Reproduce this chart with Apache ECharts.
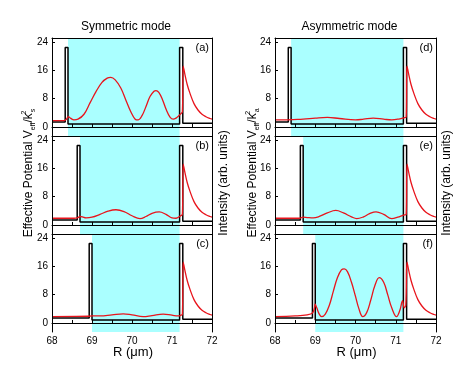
<!DOCTYPE html>
<html><head><meta charset="utf-8">
<script src="https://cdn.jsdelivr.net/npm/echarts@6/dist/echarts.min.js"></script>
<style>html,body{margin:0;padding:0;background:#fff}#c{width:474px;height:380px}</style>
</head><body><div id="c"></div>
<script>
// ---- data ----
const xTickLabels = [68, 69, 70, 71, 72];
const yTickLabels = [0, 8, 16, 24];
const panelLabels = ['(a)', '(b)', '(c)', '(d)', '(e)', '(f)'];
const columnTitles = ['Symmetric mode', 'Asymmetric mode'];
// effective potential (step profile)
const leftSpikeStart = [68.33, 68.63, 68.93, 68.33, 68.63, 68.93];
const wellStart = [68.40, 68.70, 69.00, 68.40, 68.70, 69.00];
const wellEnd = 71.19;
const rightSpikeEnd = 71.27;
const spikeTop = 22.5;
const outerLeftLevel = 1.4;
const innerLevel = 0.85;
const outerRightLevel = 1.05;
// intensity profiles
const tail = [[71.28,17.2],[71.32,15.0],[71.38,12.0],[71.45,9.5],[71.55,6.6],[71.65,4.8],[71.75,3.6],[71.85,2.9],[71.95,2.4],[72,2.2]];
const intensityA = [[68.0,1.8],[68.3,1.8],[68.36,2.2],[68.41,2.9],[68.46,2.5],[68.55,2.0],[68.65,2.2],[68.8,3.6],[68.95,6.8],[69.1,10.0],[69.25,12.6],[69.38,13.8],[69.47,14.0],[69.58,13.3],[69.72,11.0],[69.85,7.5],[69.97,4.3],[70.08,2.2],[70.15,2.0],[70.25,3.2],[70.35,5.8],[70.45,8.6],[70.55,10.1],[70.6,10.3],[70.67,9.8],[70.76,7.8],[70.86,4.8],[70.95,2.8],[71.03,2.2],[71.1,2.5],[71.17,3.2],[71.22,3.7],[71.26,4.4]];
const intensityB = [[68.0,1.9],[68.55,1.9],[68.65,2.1],[68.7,2.4],[68.76,2.3],[68.85,2.0],[69.0,2.2],[69.2,3.0],[69.4,3.9],[69.6,4.3],[69.8,3.8],[70.0,2.6],[70.2,1.8],[70.35,2.4],[70.5,3.3],[70.68,3.7],[70.85,3.0],[71.0,2.0],[71.1,1.9],[71.2,2.5],[71.26,3.0]];
const intensityC = [[68.0,1.8],[68.9,1.9],[69.0,2.0],[69.2,2.0],[69.5,2.3],[69.78,2.6],[70.0,2.3],[70.28,1.8],[70.5,2.1],[70.78,2.5],[71.0,2.2],[71.15,2.0],[71.22,2.2],[71.26,2.5]];
const intensityD = [[68.0,2.0],[68.3,2.0],[68.45,2.1],[68.7,2.2],[69.0,2.5],[69.3,2.7],[69.6,2.4],[70.0,2.0],[70.2,2.2],[70.44,2.5],[70.7,2.2],[70.9,2.0],[71.1,2.3],[71.2,2.6],[71.26,2.8]];
const intensityE = [[68.0,1.9],[68.6,1.9],[68.7,2.2],[68.8,2.1],[68.95,2.0],[69.1,2.4],[69.3,3.4],[69.51,4.1],[69.7,3.4],[69.9,2.3],[70.03,1.8],[70.2,2.3],[70.35,3.2],[70.51,3.7],[70.7,3.0],[70.9,1.8],[71.05,2.2],[71.19,2.8],[71.26,3.0]];
const intensityF = [[68.0,1.8],[68.5,2.0],[68.8,2.3],[68.93,2.8],[68.98,4.2],[69.0,5.3],[69.04,4.2],[69.1,2.5],[69.16,1.8],[69.25,2.5],[69.35,5.0],[69.45,9.0],[69.55,12.8],[69.65,15.0],[69.72,15.3],[69.8,14.5],[69.9,11.5],[70.0,7.5],[70.08,4.2],[70.18,1.8],[70.28,3.0],[70.38,6.5],[70.48,10.5],[70.59,12.8],[70.7,11.5],[70.8,8.0],[70.9,4.3],[71.02,1.8],[71.1,3.5],[71.17,6.3],[71.21,4.3],[71.25,5.0]];
const intensities = [intensityA, intensityB, intensityC, intensityD, intensityE, intensityF];

// ---- layout ----
const FONT = 'Liberation Sans, Arial, sans-serif';
const colLeft = [52, 275], colWidth = [160, 161];
const rowTop = [38, 136, 234], rowH = 98;
const yMin = -2.55, yMax = 25.15;

function potential(i) {
  const a = leftSpikeStart[i], b = wellStart[i];
  return [[68, outerLeftLevel], [a, outerLeftLevel], [a, spikeTop], [b, spikeTop], [b, innerLevel],
          [wellEnd, innerLevel], [wellEnd, spikeTop], [rightSpikeEnd, spikeTop], [rightSpikeEnd, outerRightLevel], [72, outerRightLevel]];
}

const grid = [], xAxis = [], yAxis = [], series = [], graphic = [];
for (let i = 0; i < 6; i++) {
  const col = i < 3 ? 0 : 1, row = i % 3;
  grid.push({ left: colLeft[col], top: rowTop[row], width: colWidth[col], height: rowH, show: false });
  const bottomRow = row === 2;
  xAxis.push({
    type: 'value', gridIndex: i, min: 68, max: 72, interval: 1, z: 10,
    axisLine: { show: true, lineStyle: { color: '#000', width: 1 } },
    axisTick: { show: true, inside: true, length: 3, lineStyle: { color: '#000' } },
    minorTick: { show: true, splitNumber: 2, length: 3, lineStyle: { color: '#000' } },
    splitLine: { show: false },
    axisLabel: { show: bottomRow, margin: 4, fontSize: 10, color: '#000', fontFamily: FONT,
      customValues: xTickLabels, formatter: v => String(v) }
  });
  xAxis.push({
    type: 'value', gridIndex: i, min: 68, max: 72, position: 'top', z: 10,
    axisLine: { show: true, onZero: false, lineStyle: { color: '#000', width: 1 } },
    axisTick: { show: false }, axisLabel: { show: false }, splitLine: { show: false }
  });
  yAxis.push({
    type: 'value', gridIndex: i, min: yMin, max: yMax, z: 10,
    axisLine: { show: true, onZero: false, lineStyle: { color: '#000', width: 1 } },
    axisTick: { show: true, inside: true, length: 3, customValues: yTickLabels, lineStyle: { color: '#000' } },
    splitLine: { show: false },
    axisLabel: { show: true, margin: 4, fontSize: 10, color: '#000', fontFamily: FONT,
      customValues: yTickLabels, formatter: v => String(v) }
  });
  yAxis.push({
    type: 'value', gridIndex: i, min: yMin, max: yMax, position: 'right', z: 10,
    axisLine: { show: true, onZero: false, lineStyle: { color: '#000', width: 1 } },
    axisTick: { show: false }, axisLabel: { show: false }, splitLine: { show: false }
  });
  series.push({
    type: 'line', xAxisIndex: 2 * i, yAxisIndex: 2 * i, data: potential(i),
    showSymbol: false, silent: true, animation: false, z: 3,
    lineStyle: { color: '#000', width: 1.5 },
    markArea: { silent: true, itemStyle: { color: '#aaffff' },
      data: [[{ xAxis: wellStart[i] }, { xAxis: wellEnd }]] }
  });
  series.push({
    type: 'line', xAxisIndex: 2 * i, yAxisIndex: 2 * i, data: intensities[i].concat(tail),
    showSymbol: false, silent: true, animation: false, z: 4,
    smooth: 0.4,
    lineStyle: { color: '#e8141c', width: 1.3 }
  });
  graphic.push({ type: 'text', x: colLeft[col] + colWidth[col] - 3, y: rowTop[row] + 4, z: 20,
    style: { text: panelLabels[i], align: 'right', verticalAlign: 'top', fontSize: 11, fontFamily: FONT, fill: '#000' } });
}

// column titles and x-axis names
for (let c = 0; c < 2; c++) {
  graphic.push({ type: 'text', x: colLeft[c] + colWidth[c] / 2 - 6, y: 27, z: 20,
    style: { text: columnTitles[c], align: 'center', verticalAlign: 'middle', fontSize: 12, fontFamily: FONT, fill: '#000' } });
  graphic.push({ type: 'text', x: colLeft[c] + colWidth[c] / 2 + 1, y: 352, z: 20,
    style: { text: 'R (\u03bcm)', align: 'center', verticalAlign: 'middle', fontSize: 13, fontFamily: FONT, fill: '#000' } });
}
// y-axis names
function effLabel(x, sub) {
  return { type: 'text', x: x, y: 173, rotation: Math.PI / 2, z: 20,
    style: { text: 'Effective Potential V{sub|eff}/k{sup|2}{sub|' + sub + '}', align: 'center', verticalAlign: 'middle',
      fontSize: 12, fontFamily: FONT, fill: '#000', lineHeight: 16,
      rich: {
        sub: { fontSize: 7, fontFamily: FONT, fill: '#000', verticalAlign: 'bottom', lineHeight: 16 },
        sup: { fontSize: 7, fontFamily: FONT, fill: '#000', verticalAlign: 'top', lineHeight: 16, width: 1 }
      } } };
}
graphic.push(effLabel(29, 's'));
graphic.push(effLabel(253, 'a'));
for (const x of [224, 447]) {
  graphic.push({ type: 'text', x: x, y: 183, rotation: Math.PI / 2, z: 20,
    style: { text: 'Intensity (arb. units)', align: 'center', verticalAlign: 'middle', fontSize: 12, fontFamily: FONT, fill: '#000' } });
}

const chart = echarts.init(document.getElementById('c'), null, { renderer: 'canvas' });
chart.setOption({ animation: false, backgroundColor: '#fff', grid, xAxis, yAxis, series, graphic });
</script></body></html>
